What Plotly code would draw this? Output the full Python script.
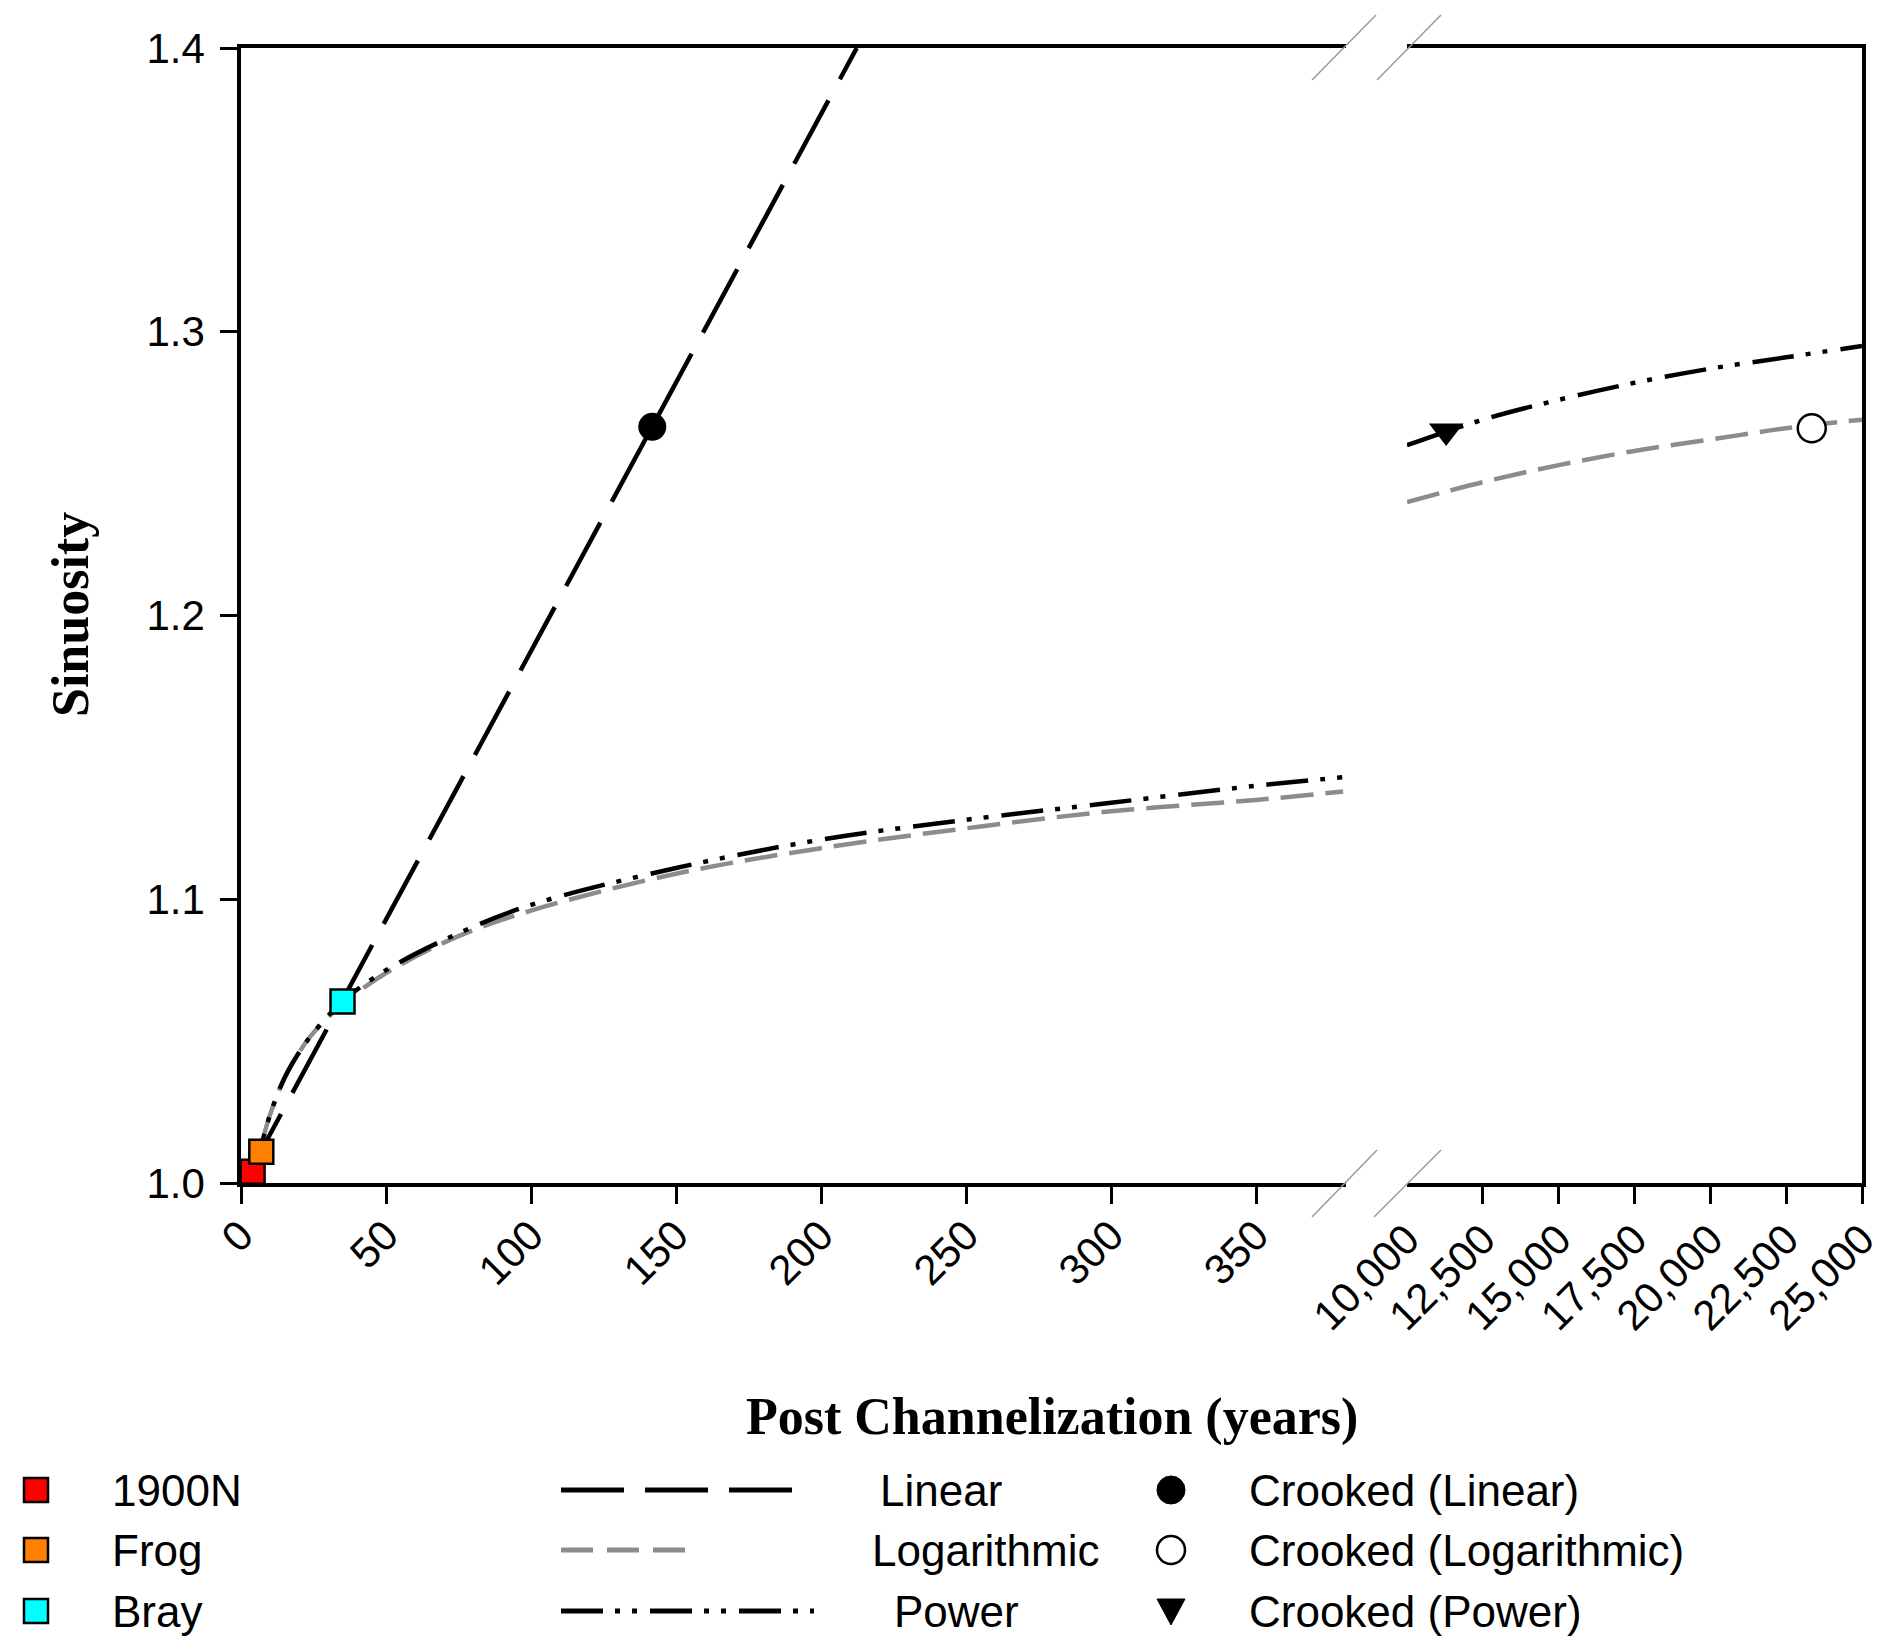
import plotly.graph_objects as go

W, H = 1896, 1648

# measured channelized reaches
site_names = ["1900N", "Frog", "Bray"]
site_years = [4, 7, 35]
site_sinuosity = [1.004, 1.011, 1.064]
site_colors = ["#ff0000", "#ff8000", "#00ffff"]

# linear fit
linear_years = [2, 212.3]
linear_sinuosity = [1.002, 1.400]

# logarithmic / power fits, short-term part of the axis
fit_years = [5, 7, 10, 15, 20, 25, 35, 50, 75, 100, 150, 200, 250, 300, 350, 380]
log_sinuosity = [1.002, 1.013, 1.024, 1.037, 1.046, 1.053, 1.063, 1.074, 1.087,
                 1.096, 1.109, 1.118, 1.125, 1.131, 1.135, 1.138]
power_sinuosity = [1.003, 1.013, 1.024, 1.037, 1.046, 1.053, 1.064, 1.075, 1.088,
                   1.098, 1.111, 1.121, 1.128, 1.134, 1.140, 1.143]

# long-term part of the axis
long_years = [10000, 12500, 15000, 17500, 20000, 22500, 25000]
log_long = [1.240, 1.247, 1.253, 1.258, 1.262, 1.266, 1.269]
power_long = [1.260, 1.269, 1.276, 1.282, 1.287, 1.291, 1.295]

# Crooked Creek estimates
crooked_linear_years = [141.8]
crooked_linear_sin = [1.2665]
crooked_log_years = [23344]
crooked_log_sin = [1.266]
crooked_power_years = [11291]
crooked_power_sin = [1.265]

x_ticks_short = [0, 50, 100, 150, 200, 250, 300, 350]
x_ticks_long = [10000, 12500, 15000, 17500, 20000, 22500, 25000]
y_ticks = [1.0, 1.1, 1.2, 1.3, 1.4]

LIN_DASH = "72px,24px"
LOG_DASH = "33px,12px"
POW_DASH = "42px,12px,5px,12px,5px,13px"
GREY = "#8c8c8c"
SANS = "Liberation Sans, Arial, sans-serif"
SERIF = "Liberation Serif, Times New Roman, serif"


def px(x):
    return x / W


def py(y):
    return 1 - y / H


fig = go.Figure()

# curves
fig.add_trace(go.Scatter(x=fit_years, y=log_sinuosity, mode="lines", line_shape="spline",
                         line=dict(color=GREY, width=4.5, dash=LOG_DASH), xaxis="x", yaxis="y"))
fig.add_trace(go.Scatter(x=fit_years, y=power_sinuosity, mode="lines", line_shape="spline",
                         line=dict(color="black", width=4.5, dash=POW_DASH), xaxis="x", yaxis="y"))
fig.add_trace(go.Scatter(x=linear_years, y=linear_sinuosity, mode="lines",
                         line=dict(color="black", width=4.5, dash=LIN_DASH), xaxis="x", yaxis="y"))
fig.add_trace(go.Scatter(x=long_years, y=log_long, mode="lines", line_shape="spline",
                         line=dict(color=GREY, width=4.5, dash=LOG_DASH), xaxis="x2", yaxis="y2"))
fig.add_trace(go.Scatter(x=long_years, y=power_long, mode="lines", line_shape="spline",
                         line=dict(color="black", width=4.5, dash=POW_DASH), xaxis="x2", yaxis="y2"))

# points
for name, xv, yv, col in zip(site_names, site_years, site_sinuosity, site_colors):
    fig.add_trace(go.Scatter(x=[xv], y=[yv], mode="markers", name=name, cliponaxis=False,
                             marker=dict(symbol="square", size=24, color=col,
                                         line=dict(color="black", width=2.5)),
                             xaxis="x", yaxis="y"))
fig.add_trace(go.Scatter(x=crooked_linear_years, y=crooked_linear_sin, mode="markers",
                         marker=dict(symbol="circle", size=28, color="black"),
                         xaxis="x", yaxis="y"))
fig.add_trace(go.Scatter(x=crooked_log_years, y=crooked_log_sin, mode="markers",
                         marker=dict(symbol="circle", size=28, color="white",
                                     line=dict(color="black", width=2.5)),
                         xaxis="x2", yaxis="y2"))
fig.add_trace(go.Scatter(x=crooked_power_years, y=crooked_power_sin, mode="markers",
                         marker=dict(symbol="triangle-down", size=30, color="black"),
                         xaxis="x2", yaxis="y2"))

# hand-made legend (pixel positions -> paper)
rows = [1490, 1550, 1611]
shapes = []
for yrow, col in zip(rows, site_colors):
    shapes.append(dict(type="rect", xref="paper", yref="paper",
                       x0=px(36 - 12), x1=px(36 + 12), y0=py(yrow + 12), y1=py(yrow - 12),
                       fillcolor=col, line=dict(color="black", width=2.5)))
legend_lines = [(793, "black", 5, "63px,21px"), (686, GREY, 5, "32px,14px"),
                (814, "black", 5, POW_DASH)]
for yrow, (xend, col, wd, dash) in zip(rows, legend_lines):
    shapes.append(dict(type="line", xref="paper", yref="paper",
                       x0=px(561), x1=px(xend), y0=py(yrow), y1=py(yrow),
                       line=dict(color=col, width=wd, dash=dash)))
r = 14
shapes.append(dict(type="circle", xref="paper", yref="paper",
                   x0=px(1171 - r), x1=px(1171 + r), y0=py(rows[0] + r), y1=py(rows[0] - r),
                   fillcolor="black", line=dict(color="black", width=1)))
shapes.append(dict(type="circle", xref="paper", yref="paper",
                   x0=px(1171 - r), x1=px(1171 + r), y0=py(rows[1] + r), y1=py(rows[1] - r),
                   fillcolor="white", line=dict(color="black", width=2.5)))
tri = "M {:.5f},{:.5f} L {:.5f},{:.5f} L {:.5f},{:.5f} Z".format(
    px(1171 - 14), py(rows[2] - 12), px(1171 + 14), py(rows[2] - 12), px(1171), py(rows[2] + 14))
shapes.append(dict(type="path", xref="paper", yref="paper", path=tri,
                   fillcolor="black", line=dict(color="black", width=1)))

# axis-break slashes
breaks = [((1312, 80), (1376, 15)), ((1377, 80), (1441, 15)),
          ((1312, 1217), (1377, 1150)), ((1374, 1217), (1441, 1150))]
for a, b in breaks:
    shapes.append(dict(type="line", xref="paper", yref="paper",
                       x0=px(a[0]), y0=py(a[1]), x1=px(b[0]), y1=py(b[1]),
                       line=dict(color="#9a9a9a", width=1.5)))

legend_text = [
    (110, rows[0], "1900N"), (110, rows[1], "Frog"), (110, rows[2], "Bray"),
    (878, rows[0], "Linear"), (870, rows[1], "Logarithmic"), (892, rows[2], "Power"),
    (1247, rows[0], "Crooked (Linear)"), (1247, rows[1], "Crooked (Logarithmic)"),
    (1247, rows[2], "Crooked (Power)"),
]
annotations = [
    dict(x=px(x), y=py(y), xref="paper", yref="paper", text=t, showarrow=False,
         xanchor="left", yanchor="middle", font=dict(family=SANS, size=44, color="black"))
    for x, y, t in legend_text
]
annotations.append(dict(x=px(1052), y=py(1417), xref="paper", yref="paper",
                        text="<b>Post Channelization (years)</b>", showarrow=False,
                        xanchor="center", yanchor="middle",
                        font=dict(family=SERIF, size=52, color="black")))
annotations.append(dict(x=px(70), y=py(615), xref="paper", yref="paper",
                        text="<b>Sinuosity</b>", showarrow=False, textangle=-90,
                        xanchor="center", yanchor="middle",
                        font=dict(family=SERIF, size=52, color="black")))

axis_common = dict(showline=True, linecolor="black", linewidth=3.5, showgrid=False,
                   zeroline=False, ticks="outside", ticklen=17, tickwidth=3,
                   tickcolor="black", automargin=False,
                   tickfont=dict(family=SANS, size=42, color="black"))

y_dom = [py(1183), py(48)]
fig.update_layout(
    width=W, height=H,
    margin=dict(l=0, r=0, t=0, b=0, pad=0),
    paper_bgcolor="white", plot_bgcolor="white",
    showlegend=False, hovermode=False,
    xaxis=dict(domain=[px(241), px(1346)], range=[0, 381], anchor="y", mirror=True,
               tickvals=x_ticks_short, tickangle=-45, ticklabelstandoff=-10, **axis_common),
    yaxis=dict(domain=y_dom, range=[1.0, 1.4], anchor="x", tickvals=y_ticks,
               tickformat=".1f", ticklabelstandoff=7, **axis_common),
    yaxis2=dict(domain=y_dom, range=[1.0, 1.4], anchor="x2", side="right",
                showline=True, linecolor="black", linewidth=3.5, showgrid=False,
                zeroline=False, ticks="", showticklabels=False, automargin=False),
)
# right segment: labels on every value, tick marks only after the break
long_axis = dict(axis_common)
long_axis["ticks"] = ""
fig.update_layout(
    xaxis2=dict(domain=[px(1407), px(1862)], range=[10000, 25000], anchor="y2", mirror=True,
                tickvals=x_ticks_long, tickformat=",d", tickangle=-45, ticklabelstandoff=11,
                minor=dict(tickvals=x_ticks_long[1:], ticks="outside", ticklen=17,
                           tickwidth=3, tickcolor="black", showgrid=False),
                **long_axis),
    annotations=annotations,
    shapes=shapes,
)

# drop the browser's default 8px body margin so pixel positions line up
fig.write_html("out.html", config={"displayModeBar": False},
               post_script="document.body.style.margin = '0px';")
